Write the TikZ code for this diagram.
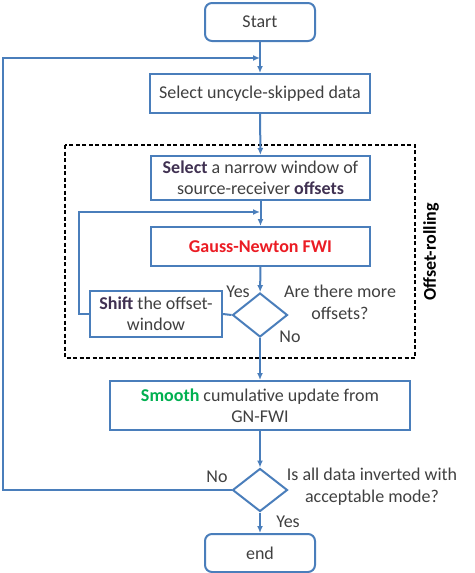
\documentclass[tikz,border=0pt]{standalone}
\usepackage{fontspec}
\setmainfont{Carlito}
\usetikzlibrary{shapes.geometric,arrows.meta}
\definecolor{bline}{RGB}{74,126,187}
\definecolor{txt}{RGB}{64,64,64}
\definecolor{pur}{RGB}{64,49,82}
\definecolor{gred}{RGB}{235,28,36}
\definecolor{ggreen}{RGB}{0,176,80}
\tikzset{
  box/.style={draw=bline,line width=2pt,fill=white,text=txt,align=center,inner sep=2pt,font=\fontsize{18}{21}\selectfont},
  rbox/.style={box,rounded corners=7pt},
  dia/.style={draw=bline,line width=2pt,diamond,inner sep=0pt,fill=white},
  arr/.style={draw=bline,line width=2pt,-{Latex[length=7pt,width=6pt]}},
  ln/.style={draw=bline,line width=2pt},
  lab/.style={text=txt,align=center,font=\fontsize{18}{22}\selectfont}
}
\begin{document}
\begin{tikzpicture}[x=1pt,y=-1pt]
\useasboundingbox (0,0) rectangle (474,573);
\draw[black,dash pattern=on 4pt off 2.5pt,line width=1.3pt] (65,145) rectangle (415,358);
\node[rbox,minimum width=110pt,minimum height=38pt] (start) at (260,22) {Start};
\node[box,minimum width=220pt,minimum height=39pt] (sel1) at (260,93.5) {Select uncycle-skipped data};
\node[box,minimum width=219pt,minimum height=44pt] (sel2) at (260.5,178) {\textbf{\color{pur}Select} a narrow window of\\source-receiver \textbf{\color{pur}offsets}};
\node[box,minimum width=219pt,minimum height=39pt] (gn) at (260.5,246.5) {\textbf{\color{gred}Gauss-Newton FWI}};
\node[dia,minimum width=55pt,minimum height=44pt] (d1) at (260,315) {};
\node[box,minimum width=132pt,minimum height=46pt] (shift) at (156,314) {\textbf{\color{pur}Shift} the offset-\\window};
\node[box,minimum width=300pt,minimum height=49pt] (smooth) at (260,405.5) {\textbf{\color{ggreen}Smooth} cumulative update from\\GN-FWI};
\node[dia,minimum width=55pt,minimum height=43pt] (d2) at (260,490) {};
\node[rbox,minimum width=110pt,minimum height=38pt] (endn) at (260,553) {end};
\coordinate (L1) at (3,58);
\coordinate (j1) at (260,58);
\coordinate (L2) at (79,212);
\coordinate (j2) at (260,212);
\draw[arr] (start) -- (sel1);
\draw[arr] (sel1) -- (sel2);
\draw[arr] (sel2) -- (gn);
\draw[arr] (gn) -- (d1);
\draw[arr] (d1) -- (smooth);
\draw[arr] (smooth) -- (d2);
\draw[arr] (d2) -- (endn);
\draw[ln] (d1.west) -- (shift.east);
\draw[arr] (shift.west) -| (L2) -- (j2);
\draw[arr] (d2.west) -| (L1) -- (j1);
\node[lab] (yes1) at (238,292) {Yes};
\node[lab] (q1) at (340,302) {Are there more\\offsets?};
\node[lab] (no1) at (290,337) {No};
\node[lab] (no2) at (217,477) {No};
\node[lab] (q2) at (372,487) {Is all data inverted with\\acceptable mode?};
\node[lab] (yes2) at (288,522) {Yes};
\node[rotate=90,font=\bfseries\fontsize{18}{21}\selectfont] (orl) at (431,252) {Offset-rolling};
\end{tikzpicture}
\end{document}
